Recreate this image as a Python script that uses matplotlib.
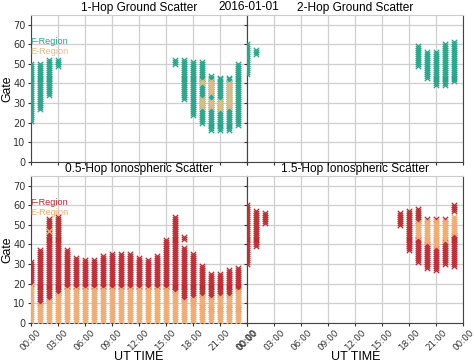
import numpy as np
import matplotlib
matplotlib.use('Agg')
import matplotlib.pyplot as plt

# Each segment: (UT hour, first gate, last gate)
# 1-Hop ground scatter
gs1_f = [(0, 21, 50), (1, 27, 50), (2, 34, 52), (3, 49, 52), (16, 50, 52), (17, 32, 52),
         (18, 24, 51), (19, 20, 51), (20, 16, 44), (21, 16, 43), (22, 16, 43), (23, 19, 50)]
gs1_e = [(19, 40, 41), (19, 28, 32), (20, 35, 41), (20, 28, 31), (21, 27, 31), (22, 28, 40)]

# 2-Hop ground scatter
gs2_f = [(0, 45, 60), (1, 55, 57), (19, 49, 59), (20, 43, 56), (21, 39, 56),
         (22, 39, 60), (23, 41, 61)]
gs2_e = []

# 0.5-Hop ionospheric scatter (one column per hour)
is05_hours = list(range(24))
is05_f_top = [31, 37, 53, 54, 37, 33, 32, 32, 34, 35, 35, 35,
              33, 32, 34, 42, 54, 38, 35, 29, 25, 25, 27, 28]
is05_f_bot = [20, 10, 12, 15, 18, 18, 18, 18, 18, 18, 18, 18,
              18, 18, 18, 18, 16, 12, 13, 14, 13, 14, 14, 17]
is05_e_bot = 1
is05_f_extra = [(17, 43, 44), (18, 10, 10), (19, 8, 8), (20, 7, 7), (21, 7, 7), (22, 7, 7), (23, 7, 7)]
is05_e_extra = [(2, 47, 47)]

# 1.5-Hop ionospheric scatter
is15_f = [(0, 30, 60), (1, 39, 57), (2, 51, 56), (17, 50, 56), (18, 37, 57), (19, 52, 58),
          (19, 31, 43), (20, 28, 40), (20, 53, 53), (21, 27, 38), (21, 53, 53), (22, 30, 41),
          (22, 53, 53), (23, 57, 60), (23, 29, 45)]
is15_e = [(19, 44, 51), (20, 41, 52), (21, 39, 52), (22, 42, 52), (23, 46, 54)]

xtick_hours = [0, 3, 6, 9, 12, 15, 18, 21, 24]
xtick_labels = ['00:00', '03:00', '06:00', '09:00', '12:00', '15:00', '18:00', '21:00', '00:00']

GS_F, GS_E = '#27a58a', '#e2bd84'
IS_F, IS_E = '#bf2a30', '#f5aa6d'


def expand(segs):
    xs, ys = [], []
    for h, lo, hi in segs:
        g = np.arange(lo, hi + 1)
        xs += [h] * len(g)
        ys += list(g)
    return np.array(xs), np.array(ys)


is05_f = [(h, b, t) for h, b, t in zip(is05_hours, is05_f_bot, is05_f_top)] + is05_f_extra
is05_e = [(h, is05_e_bot, b - 1) for h, b in zip(is05_hours, is05_f_bot)] + is05_e_extra

fig = plt.figure(figsize=(4.74, 3.63), dpi=100)
W, H = 474.0, 363.0
lx, rx, aw = 30.7 / W, 247.3 / W, 216.0 / W
ah = 146.8 / H
tb, bb = 1 - 161.7 / H, 1 - 322.7 / H

panels = [
    (lx, tb, '1-Hop Ground Scatter', gs1_f, gs1_e, GS_F, GS_E, True, False),
    (rx, tb, '2-Hop Ground Scatter', gs2_f, gs2_e, GS_F, GS_E, False, False),
    (lx, bb, '0.5-Hop Ionospheric Scatter', is05_f, is05_e, IS_F, IS_E, True, True),
    (rx, bb, '1.5-Hop Ionospheric Scatter', is15_f, is15_e, IS_F, IS_E, False, True),
]

for x0, y0, title, fseg, eseg, fc, ec, left, bottom in panels:
    ax = fig.add_axes([x0, y0, aw, ah])
    ax.set_axisbelow(True)
    ax.grid(True, color='#cfcfcf', linewidth=0.9)
    for segs, c in ((fseg, fc), (eseg, ec)):
        if segs:
            x, y = expand(segs)
            ax.scatter(x, y, marker='x', s=15, linewidths=0.9, color=c, zorder=3)
    ax.set_xlim(0, 24)
    ax.set_ylim(0, 75)
    ax.set_yticks(range(0, 71, 10))
    ax.set_xticks(xtick_hours)
    ax.tick_params(labelsize=7, length=2.5, width=0.8, pad=1.2, colors='#333333')
    for s in ('left', 'bottom', 'right'):
        ax.spines[s].set_color('#444444')
    ax.spines['top'].set_color('#cccccc')
    ax.set_title(title, fontsize=8.6, family='Liberation Sans', pad=2.5)
    if left:
        ax.text(0, 61.3, 'F-Region', color=fc, fontsize=6.6, family='Liberation Sans',
                va='center', ha='left', zorder=4)
        ax.text(0, 56.2, 'E-Region', color=ec, fontsize=6.6, family='Liberation Sans',
                va='center', ha='left', zorder=4)
        fig.text(7 / W, y0 + ah / 2, 'Gate', rotation=90, fontsize=8.8,
                 family='Liberation Sans', ha='center', va='center')
    else:
        ax.set_yticklabels([])
    if bottom:
        ax.set_xticklabels(xtick_labels, rotation=45, ha='center', va='top', fontsize=6.4)
        fig.text(x0 + aw / 2, 1 - 356.5 / H, 'UT TIME', fontsize=9,
                 family='Liberation Sans', ha='center', va='center')
    else:
        ax.set_xticklabels([])

fig.text(249 / W, 1 - 6.5 / H, '2016-01-01', fontsize=8.6, family='Liberation Sans',
         ha='center', va='center')

fig.savefig('out.png', dpi=100)
